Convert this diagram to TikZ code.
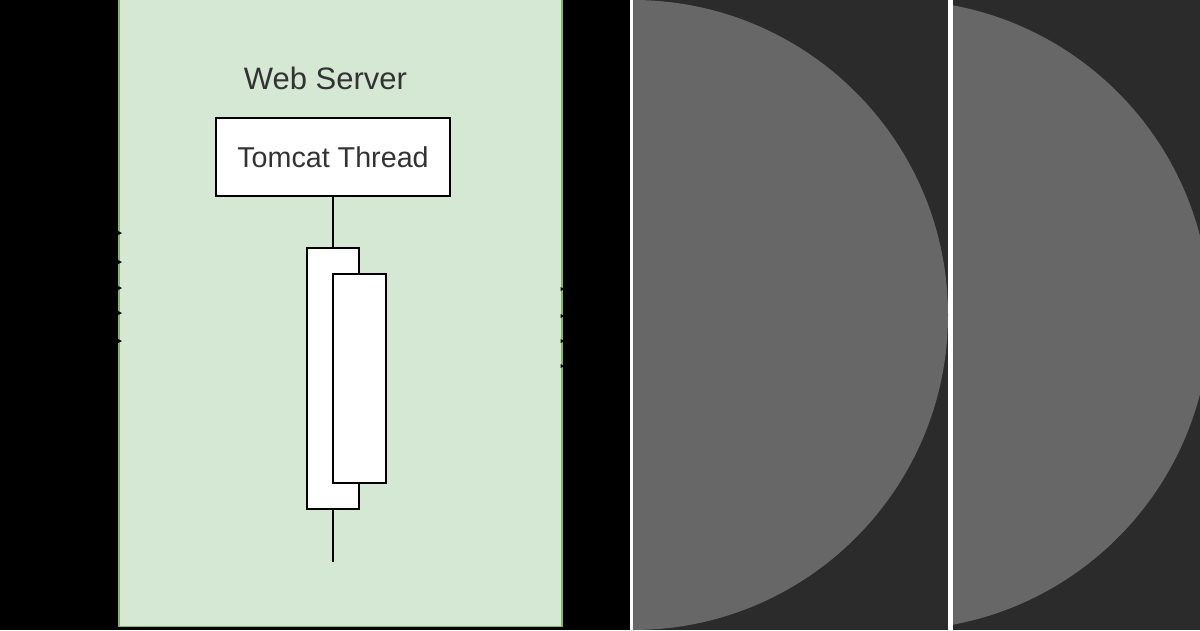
\documentclass[tikz,border=0pt]{standalone}
\definecolor{serverfill}{RGB}{213, 232, 212}
\definecolor{servergreen}{RGB}{130, 179, 102}
\definecolor{textgray}{RGB}{51, 51, 51}
\definecolor{darkpane}{RGB}{43, 43, 43}
\definecolor{discgray}{RGB}{103, 103, 103}
\usepackage{fontspec}
\setmainfont{Liberation Sans}
\usepackage{tikz}
\usetikzlibrary{positioning, calc}

\begin{document}
\begin{tikzpicture}[x=1pt, y=-1pt,
    threadbox/.style={draw=black, fill=white, line width=1.8pt, inner sep=0pt},
    lifeline/.style={draw=black, line width=1.8pt},
    portmark/.style={fill=black}]
  \useasboundingbox (0, 0) rectangle (1200, 630);

  % Background panes
  \fill[black] (0, 0) rectangle (630, 630);
  \fill[white] (630, 0) rectangle (633, 630);
  \fill[darkpane] (633, 0) rectangle (948, 630);
  \fill[white] (948, 0) rectangle (953, 630);
  \fill[darkpane] (953, 0) rectangle (1200, 630);

  % Half discs
  \begin{scope}
    \clip (633, 0) rectangle (948, 630);
    \fill[discgray] (633, 315) circle (315pt);
  \end{scope}
  \begin{scope}
    \clip (953, 0) rectangle (1200, 630);
    \fill[discgray] (895, 315) circle (315pt);
  \end{scope}

  % Web server
  \draw[fill=serverfill, draw=servergreen, line width=1.8pt] (119, -5) rectangle (562, 626.5);
  \node[font=\fontsize{31}{35}\selectfont, text=textgray] (webserver) at (325.5, 78) {Web Server};

  % Small marks on the border
  \foreach \y in {233, 262, 288, 313, 341}
    \fill[portmark] (118, \y - 2) -- (122, \y) -- (118, \y + 2) -- cycle;
  \foreach \y in {289, 316, 341, 366}
    \fill[portmark] (560.5, \y - 2) -- (564.5, \y) -- (560.5, \y + 2) -- cycle;

  % Thread and activations
  \node[threadbox, minimum width=234pt, minimum height=78pt,
        font=\fontsize{28.7}{32}\selectfont, text=textgray] (tomcat) at (333, 157) {Tomcat Thread};
  \node[threadbox, minimum width=52pt, minimum height=261pt] (outeract) at (333, 378.5) {};
  \node[threadbox, minimum width=53pt, minimum height=209pt] (inneract) at (359.5, 378.5) {};
  \coordinate (lifeend) at (333, 562);

  \draw[lifeline] (tomcat.south) -- (outeract.north);
  \draw[lifeline] (outeract.south) -- (lifeend);
\end{tikzpicture}
\end{document}
